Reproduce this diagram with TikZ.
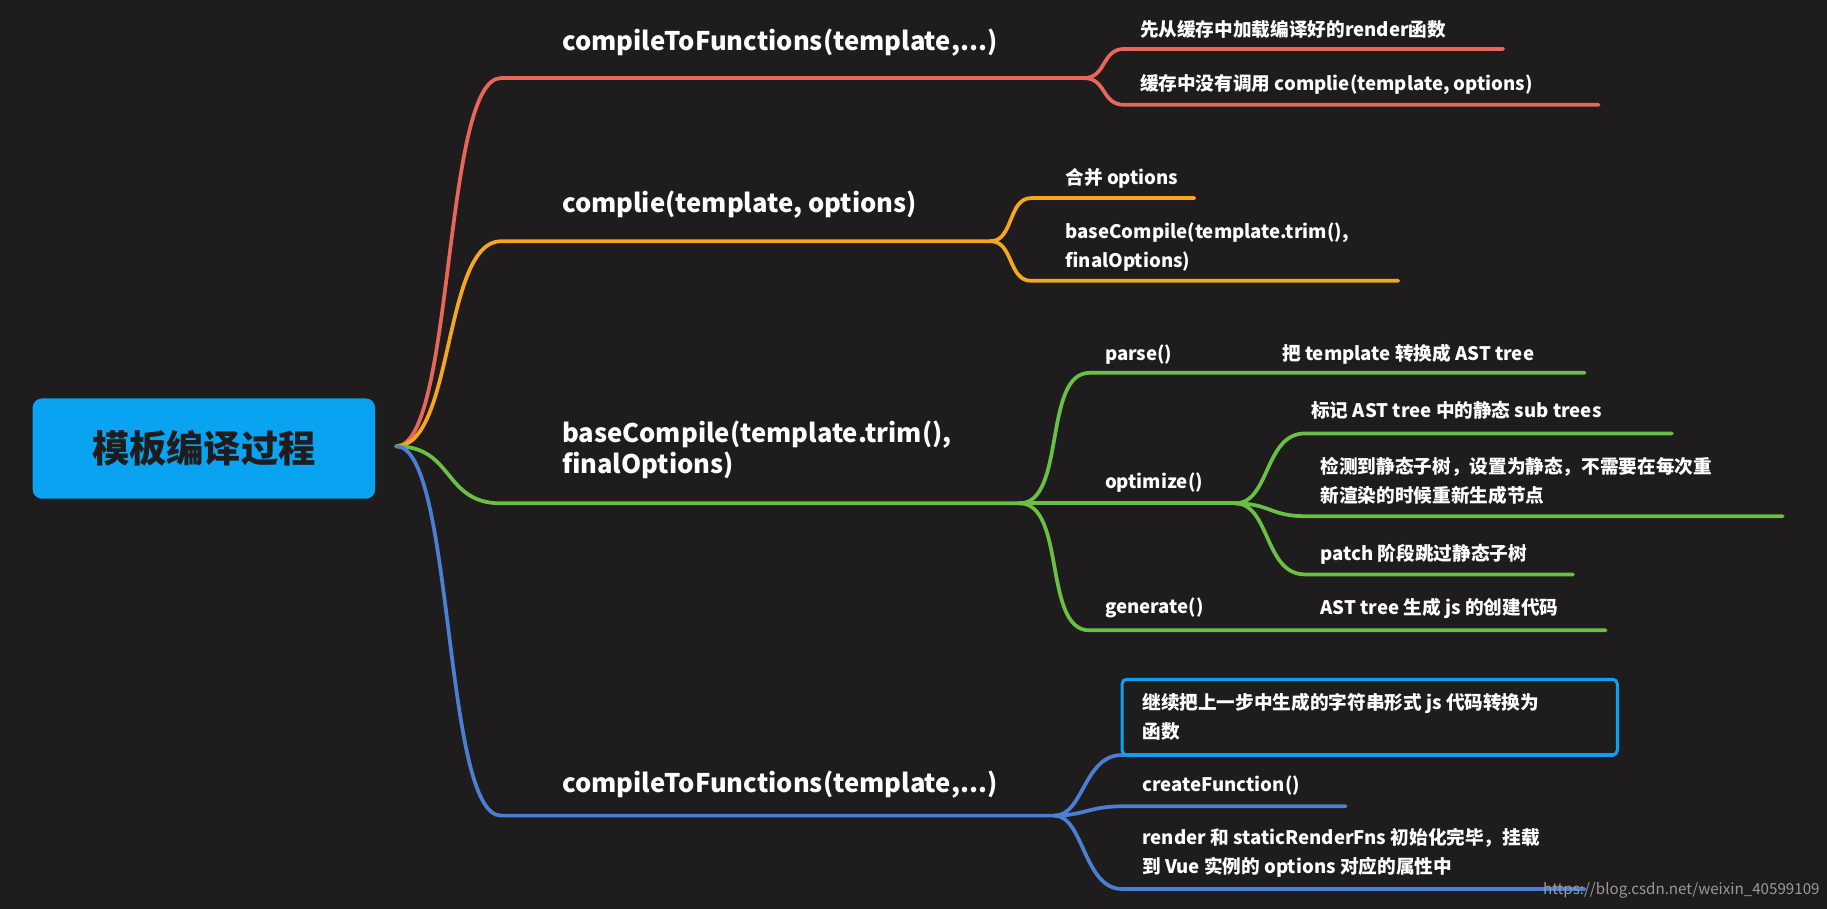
\documentclass[tikz,border=0pt]{standalone}
\usepackage{fontspec}
\setmainfont{Noto Sans CJK SC}
\begin{document}
\begin{tikzpicture}[x=0.5pt,y=-0.5pt,
  br/.style={line width=1.6pt,line cap=round},
  lab/.style={anchor=west,text=white,font=\bfseries\fontsize{11}{13}\selectfont,inner sep=0pt,align=left},
  sm/.style={anchor=west,text=white,font=\bfseries\fontsize{8}{12.5}\selectfont,inner sep=0pt,align=left}]
\definecolor{bg}{HTML}{1E1C1C}
\definecolor{cr}{HTML}{E8675A}
\definecolor{co}{HTML}{F5A623}
\definecolor{cg}{HTML}{6ABF45}
\definecolor{cb}{HTML}{4A7FD4}
\definecolor{cy}{HTML}{0AA3F2}
\fill[bg] (0,0) rectangle (1568,780);
\useasboundingbox (0,0) rectangle (1568,780);
% root
\node[fill=cy,rounded corners=4pt,minimum width=147pt,minimum height=43pt,inner sep=0pt,
  font=\bfseries\fontsize{16}{18}\selectfont,text=bg] (root) at (175,385) {模板编译过程};
\coordinate (r) at (340,383);
% branch 1
\coordinate (a1) at (430,67); \coordinate (a2) at (930,67);
\draw[br,cr] (r) .. controls (390,383) and (380,67) .. (a1) -- (a2);
\node[lab] (la) at (482,37) {compileToFunctions(template,...)};
\coordinate (a3) at (965,42); \coordinate (a4) at (1290,42);
\coordinate (a5) at (965,90); \coordinate (a6) at (1372,90);
\draw[br,cr] (a2) .. controls (950,67) and (945,42) .. (a3) -- (a4);
\draw[br,cr] (a2) .. controls (950,67) and (945,90) .. (a5) -- (a6);
\node[sm] (ta) at (978,25) {先从缓存中加载编译好的render函数};
\node[sm] (tb) at (978,73) {缓存中没有调用 complie(template, options)};
% branch 2
\coordinate (b1) at (430,207); \coordinate (b2) at (850,207);
\draw[br,co] (r) .. controls (390,383) and (380,207) .. (b1) -- (b2);
\node[lab] (lb) at (482,176) {complie(template, options)};
\coordinate (b3) at (885,170); \coordinate (b4) at (1025,170);
\coordinate (b5) at (885,241); \coordinate (b6) at (1200,241);
\draw[br,co] (b2) .. controls (870,207) and (865,170) .. (b3) -- (b4);
\draw[br,co] (b2) .. controls (870,207) and (865,241) .. (b5) -- (b6);
\node[sm] (tc) at (914,153) {合并 options};
\node[sm] (td) at (914,212) {baseCompile(template.trim(),\\finalOptions)};
% branch 3
\coordinate (c1) at (430,432); \coordinate (c2) at (875,432);
\draw[br,cg] (r) .. controls (390,383) and (380,432) .. (c1) -- (c2);
\node[lab] (lc) at (482,386) {baseCompile(template.trim(),\\finalOptions)};
\coordinate (c3) at (935,320); \coordinate (c4) at (1360,320);
\coordinate (c5) at (935,432); \coordinate (c6) at (1060,432);
\coordinate (c7) at (935,541); \coordinate (c8) at (1378,541);
\draw[br,cg] (c2) .. controls (915,432) and (895,320) .. (c3) -- (c4);
\draw[br,cg] (c2) -- (c6);
\draw[br,cg] (c2) .. controls (915,432) and (895,541) .. (c7) -- (c8);
\node[sm] (te) at (948,304) {parse()};
\node[sm] (tf) at (1100,304) {把 template 转换成 AST tree};
\node[sm] (tg) at (948,414) {optimize()};
\node[sm] (th) at (948,522) {generate()};
\node[sm] (ti) at (1133,522) {AST tree 生成 js 的创建代码};
\coordinate (d1) at (1120,372); \coordinate (d2) at (1435,372);
\coordinate (d3) at (1120,443); \coordinate (d4) at (1530,443);
\coordinate (d5) at (1120,493); \coordinate (d6) at (1350,493);
\draw[br,cg] (c6) .. controls (1090,432) and (1085,372) .. (d1) -- (d2);
\draw[br,cg] (c6) .. controls (1090,432) and (1090,443) .. (d3) -- (d4);
\draw[br,cg] (c6) .. controls (1090,432) and (1085,493) .. (d5) -- (d6);
\node[sm] (tj) at (1125,352) {标记 AST tree 中的静态 sub trees};
\node[sm] (tk) at (1133,413) {检测到静态子树，设置为静态，不需要在每次重\\新渲染的时候重新生成节点};
\node[sm] (tl) at (1133,476) {patch 阶段跳过静态子树};
% branch 4
\coordinate (e1) at (430,700); \coordinate (e2) at (905,700);
\draw[br,cb] (r) .. controls (390,383) and (380,700) .. (e1) -- (e2);
\node[lab] (ld) at (482,673) {compileToFunctions(template,...)};
\coordinate (e3) at (963,648); \coordinate (e4) at (1385,648);
\coordinate (e5) at (963,692); \coordinate (e6) at (1155,692);
\coordinate (e7) at (963,763); \coordinate (e8) at (1360,763);
\draw[br,cb] (e2) .. controls (930,700) and (930,648) .. (e3) -- (e4);
\draw[br,cb] (e2) .. controls (930,700) and (935,692) .. (e5) -- (e6);
\draw[br,cb] (e2) .. controls (930,700) and (930,763) .. (e7) -- (e8);
\draw[line width=1.3pt,color=cy,rounded corners=2pt] (963,583) rectangle (1388,648);
\node[sm] (tm) at (980,615) {继续把上一步中生成的字符串形式 js 代码转换为\\函数};
\node[sm] (tn) at (980,674) {createFunction()};
\node[sm] (to) at (980,732) {render 和 staticRenderFns 初始化完毕，挂载\\到 Vue 实例的 options 对应的属性中};
\node[anchor=east,text=gray!80,font=\fontsize{6.5}{8}\selectfont,inner sep=0pt] (wm) at (1562,764) {https://blog.csdn.net/weixin\_40599109};
\end{tikzpicture}
\end{document}
